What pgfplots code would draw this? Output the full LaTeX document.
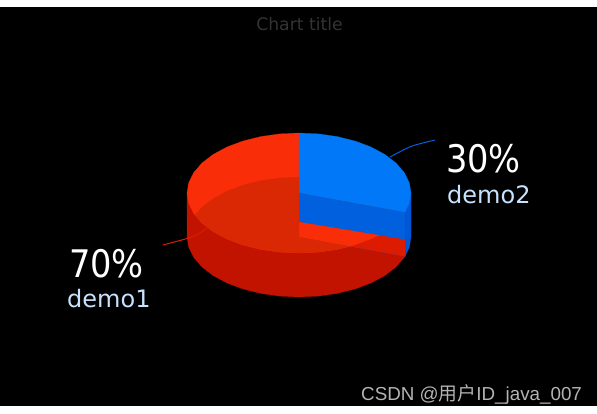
\documentclass[border=0pt]{standalone}
\usepackage{pgfplots}
\pgfplotsset{compat=1.18}
\usepackage{fontspec}
\setmainfont{DejaVu Sans}
\newfontfamily\wm{Liberation Sans}
\newfontfamily\cjk{Noto Sans CJK SC}
\definecolor{topred}{HTML}{F92D08}
\definecolor{wallred}{HTML}{C21300}
\definecolor{lensred}{HTML}{DA2805}
\definecolor{stripdark}{HTML}{DD1B00}
\definecolor{topblue}{HTML}{0078F8}
\definecolor{innerblue}{HTML}{0060DD}
\definecolor{sideblue}{HTML}{0056D4}
\definecolor{wmgray}{HTML}{B4B4B4}
\definecolor{demoblue}{HTML}{C6E2FF}
\begin{document}
\begin{tikzpicture}
\begin{axis}[
  scale only axis, width=597pt, height=414pt,
  xmin=0, xmax=597, ymin=0, ymax=414, y dir=reverse,
  axis lines=none, ticks=none, clip=true,
  axis background/.style={fill=white},
]
% black panel
\addplot[fill=black, draw=none] coordinates {(0,7)(597,7)(597,405.5)(0,405.5)} --cycle;
% front wall
\addplot[fill=wallred, draw=wallred, line width=0.2pt] coordinates {
(187,193)(187,237)(188.7,247.4)(193.8,257.5)(202,267)(213.2,275.6)(227,283)(243,289)(260.7,293.4)(279.6,296.1)(299,297)(318.4,296.1)(337.3,293.4)(355,289)(371,283)(384.8,275.6)(396,267)(404.2,257.5)(405,256.4)(405,212.4)} --cycle;
% right wall
\addplot[fill=sideblue, draw=sideblue, line width=0.2pt] coordinates {
(405,212.4)(409.3,203.4)(411,193)(411,237)(409.3,247.4)(405,256.4)} --cycle;
% top face, red
\addplot[fill=topred, draw=topred, line width=0.2pt] coordinates {
(299,133)(279.6,133.9)(260.7,136.6)(243,141)(227,147)(213.2,154.4)(202,163)(193.8,172.5)(188.7,182.6)(187,193)(188.7,203.4)(193.8,213.5)(202,223)(213.2,231.6)(227,239)(243,245)(260.7,249.4)(279.6,252.1)(299,253)(318.4,252.1)(337.3,249.4)(355,245)(371,239)(384.8,231.6)(396,223)(404.2,213.5)(405,212.4)(299,193)} --cycle;
% top face, blue
\addplot[fill=topblue, draw=topblue, line width=0.2pt] coordinates {
(299,193)(299,133)(318.4,133.9)(337.3,136.6)(355,141)(371,147)(384.8,154.4)(396,163)(404.2,172.5)(409.3,182.6)(411,193)(409.3,203.4)(405,212.4)} --cycle;
% inner wall, blue
\addplot[fill=innerblue, draw=none] coordinates {(299,193)(405,212.4)(405,256.4)(299,237)} --cycle;
% inner wall, red outside the top face
\addplot[fill=stripdark, draw=none] coordinates {(299,222)(405,239.5)(405,256.4)(299,237)} --cycle;
% inner wall, red seen through the top face
\addplot[fill=topred, draw=none] coordinates {(299,222)(379,235.2)(371,239)(355,245)(350,246.4)(299,237)} --cycle;
% overlap of the two faces
\addplot[fill=lensred, draw=none] coordinates {
(194.8,215)(202,207)(213.2,198.4)(227,191)(243,185)(260.7,180.6)(279.6,177.9)(299,177)(299,237)(350,246.4)(337.3,249.4)(318.4,252.1)(299,253)(279.6,252.1)(260.7,249.4)(243,245)(227,239)(213.2,231.6)(202,223)} --cycle;
% leader lines
\addplot[smooth, draw=innerblue, line width=1pt] coordinates {(390,157)(400,151.7)(413,145.7)(435,140)};
\addplot[smooth, draw=stripdark, line width=1pt] coordinates {(162.7,245)(187.7,238.3)(199,233.5)(208,227)};
% text
\node[text=black!80!white, anchor=center, font=\fontsize{17.2}{17}\selectfont, inner sep=0pt] at (axis cs:299.5,24) {Chart title};
\node[text=white, anchor=base west, inner sep=0pt, xscale=0.885, font=\fontsize{38}{38}\selectfont] at (axis cs:446,173) {30\%};
\node[text=white, anchor=base west, inner sep=0pt, xscale=0.885, font=\fontsize{38}{38}\selectfont] at (axis cs:69,277) {70\%};
\node[text=demoblue, anchor=base west, inner sep=0pt, font=\fontsize{24}{24}\selectfont] at (axis cs:447,204) {demo2};
\node[text=demoblue, anchor=base west, inner sep=0pt, font=\fontsize{24}{24}\selectfont] at (axis cs:67,307) {demo1};
\node[text=wmgray, anchor=base west, inner sep=0pt, font=\fontsize{18.8}{18.8}\selectfont] at (axis cs:361,400) {\wm CSDN @{\cjk 用户}ID\_java\_007};
\end{axis}
\end{tikzpicture}
\end{document}
